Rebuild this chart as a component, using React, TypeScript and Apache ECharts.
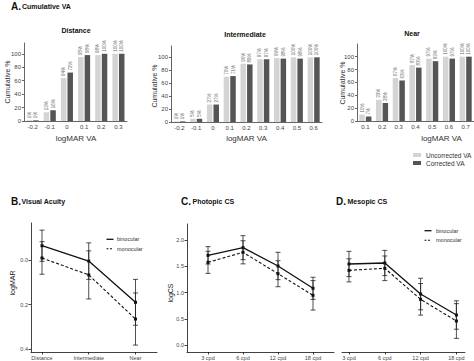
import React, { useEffect, useRef } from "react";
import * as echarts from "echarts";

// ---- Panel A data (cumulative %) ----
const distCats = ["-0.2", "-0.1", "0", "0.1", "0.2", "0.3"];
const distUnc = [1, 13, 64, 95, 98, 100];
const distCor = [1, 16, 72, 98, 100, 100];

const intCats = ["-0.2", "-0.1", "0", "0.1", "0.2", "0.3", "0.4", "0.5", "0.6"];
const intUnc = [1, 5, 27, 70, 90, 97, 99, 100, 100];
const intCor = [1, 5, 27, 71, 89, 97, 98, 98, 100];

const nearCats = ["0.1", "0.2", "0.3", "0.4", "0.5", "0.6", "0.7"];
const nearUnc = [10, 33, 67, 87, 97, 100, 100];
const nearCor = [7, 28, 63, 83, 93, 97, 100];

const pctTicks = [0, 20, 40, 60, 80, 100];

// ---- Panel B (logMAR) ----
const vaCats = ["Distance", "Intermediate", "Near"];
const vaBinMean = [-0.064, 0.005, 0.19];
const vaBinSd = [0.07, 0.082, 0.103];
const vaMonMean = [-0.009, 0.067, 0.265];
const vaMonSd = [0.073, 0.108, 0.117];
const vaTicks = [0, 0.2, 0.4];

// ---- Panel C (photopic logCS) ----
const cpdCats = ["3 cpd", "6 cpd", "12 cpd", "18 cpd"];
const phBinMean = [1.71, 1.856, 1.508, 1.084];
const phBinSd = [0.165, 0.228, 0.26, 0.21];
const phMonMean = [1.578, 1.768, 1.361, 0.95];
const phMonSd = [0.21, 0.22, 0.247, 0.28];
const csTicks = [0, 0.5, 1, 1.5, 2];

// ---- Panel D (mesopic logCS) ----
const meBinMean = [1.546, 1.565, 0.975, 0.576];
const meBinSd = [0.24, 0.24, 0.3, 0.27];
const meMonMean = [1.425, 1.464, 0.874, 0.462];
const meMonSd = [0.219, 0.234, 0.3, 0.33];

const FONT = "'Liberation Sans', Arial, sans-serif";
const LIGHT = "#d4d4d4";
const DARK = "#555555";

export default function App() {
  const ref = useRef<HTMLDivElement>(null);
  useEffect(() => {
    if (!ref.current) return;
    const chart = echarts.init(ref.current, undefined, { renderer: "svg" });

    const topGrids = [
      { left: 24, top: 43, width: 103, height: 78, max: 116 },
      { left: 171, top: 46, width: 151, height: 76, max: 117.5 },
      { left: 357, top: 44, width: 117, height: 77, max: 119.7 },
    ];
    const botGrids = [
      { left: 31, top: 223, width: 126, height: 129 },
      { left: 187, top: 224, width: 147, height: 128 },
      { left: 342, top: 224, width: 123, height: 128 },
    ];
    const grid: any[] = [...topGrids, ...botGrids].map((g) => ({
      left: g.left,
      top: g.top,
      width: g.width,
      height: g.height,
      containLabel: false,
    }));

    const topCats = [distCats, intCats, nearCats];
    const topUnc = [distUnc, intUnc, nearUnc];
    const topCor = [distCor, intCor, nearCor];

    const xAxis: any[] = [];
    const yAxis: any[] = [];
    const series: any[] = [];

    const topAxisLine = { onZero: false, lineStyle: { color: "#666", width: 1 } };
    topCats.forEach((cats, i) => {
      xAxis.push({
        type: "category",
        gridIndex: i,
        data: cats,
        axisLine: topAxisLine,
        axisTick: { alignWithLabel: true, length: 2, lineStyle: { color: "#666" } },
        axisLabel: { fontSize: 6, color: "#444", margin: 3, fontFamily: FONT },
      });
      yAxis.push({
        type: "value",
        gridIndex: i,
        min: 0,
        max: topGrids[i].max,
        splitLine: { show: false },
        axisLine: { show: true, ...topAxisLine },
        axisTick: { show: true, length: 2, lineStyle: { color: "#666" }, customValues: pctTicks },
        axisLabel: { fontSize: 6, color: "#444", margin: 3, fontFamily: FONT, customValues: pctTicks },
      });
      const lbl = {
        show: true,
        position: "top",
        rotate: 90,
        align: "left",
        verticalAlign: "middle",
        distance: 2,
        fontSize: 4.5,
        color: "#666",
        fontFamily: FONT,
        formatter: "{c}%",
      };
      series.push({
        type: "bar",
        name: "Uncorrected VA",
        xAxisIndex: i,
        yAxisIndex: i,
        data: topUnc[i],
        barWidth: 5.5,
        barGap: "20%",
        itemStyle: { color: LIGHT },
        label: lbl,
      });
      series.push({
        type: "bar",
        name: "Corrected VA",
        xAxisIndex: i,
        yAxisIndex: i,
        data: topCor[i],
        barWidth: 5.5,
        barGap: "20%",
        itemStyle: { color: DARK },
        label: lbl,
      });
    });

    const botAxisLine = { onZero: false, lineStyle: { color: "#111", width: 0.8 } };
    const botX = [
      { min: 0.765, max: 3.46, cats: vaCats },
      { min: 0.4, max: 4.6, cats: cpdCats },
      { min: 0.805, max: 4.24, cats: cpdCats },
    ];
    const botY = [
      { min: -0.166, max: 0.413, inverse: true, ticks: vaTicks, show: true, dec: 1 },
      { min: -0.127, max: 2.306, inverse: false, ticks: csTicks, show: true, dec: 1 },
      { min: -0.127, max: 2.306, inverse: false, ticks: csTicks, show: false, dec: 1 },
    ];
    botX.forEach((bx, k) => {
      const gi = 3 + k;
      const xv = bx.cats.map((_, j) => j + 1);
      xAxis.push({
        type: "value",
        gridIndex: gi,
        min: bx.min,
        max: bx.max,
        splitLine: { show: false },
        axisLine: botAxisLine,
        axisTick: { length: 2.5, lineStyle: { color: "#111", width: 0.8 }, customValues: xv },
        axisLabel: {
          fontSize: 5.5,
          color: "#444",
          margin: 3,
          fontFamily: FONT,
          customValues: xv,
          formatter: (v: number) => bx.cats[Math.round(v) - 1] ?? "",
        },
      });
      const by = botY[k];
      yAxis.push({
        type: "value",
        gridIndex: gi,
        min: by.min,
        max: by.max,
        inverse: by.inverse,
        splitLine: { show: false },
        axisLine: { show: by.show, ...botAxisLine },
        axisTick: { show: by.show, length: 2.5, lineStyle: { color: "#111", width: 0.8 }, customValues: by.ticks },
        axisLabel: {
          show: by.show,
          fontSize: 5.5,
          color: "#444",
          margin: 3,
          fontFamily: FONT,
          customValues: by.ticks,
          formatter: (v: number) => v.toFixed(by.dec),
        },
      });
    });

    const errRender = (params: any, api: any) => {
      const x = api.value(0);
      const lo = api.coord([x, api.value(1)]);
      const hi = api.coord([x, api.value(2)]);
      const w = 2.5;
      const style = { stroke: "#222", lineWidth: 0.8 };
      return {
        type: "group",
        children: [
          { type: "line", shape: { x1: lo[0], y1: lo[1], x2: hi[0], y2: hi[1] }, style },
          { type: "line", shape: { x1: lo[0] - w, y1: lo[1], x2: lo[0] + w, y2: lo[1] }, style },
          { type: "line", shape: { x1: hi[0] - w, y1: hi[1], x2: hi[0] + w, y2: hi[1] }, style },
        ],
      };
    };

    const botData = [
      { bm: vaBinMean, bs: vaBinSd, mm: vaMonMean, ms: vaMonSd },
      { bm: phBinMean, bs: phBinSd, mm: phMonMean, ms: phMonSd },
      { bm: meBinMean, bs: meBinSd, mm: meMonMean, ms: meMonSd },
    ];
    botData.forEach((d, k) => {
      const gi = 3 + k;
      const groups = [
        { name: "binocular", mean: d.bm, sd: d.bs, dash: "solid", w: 1.3 },
        { name: "monocular", mean: d.mm, sd: d.ms, dash: [3, 2], w: 1.1 },
      ];
      groups.forEach((g) => {
        series.push({
          type: "custom",
          xAxisIndex: gi,
          yAxisIndex: gi,
          renderItem: errRender,
          encode: { x: 0, y: [1, 2] },
          data: g.mean.map((m, j) => [j + 1, m - g.sd[j], m + g.sd[j]]),
          silent: true,
          z: 2,
        });
        series.push({
          type: "line",
          name: g.name,
          xAxisIndex: gi,
          yAxisIndex: gi,
          data: g.mean.map((m, j) => [j + 1, m]),
          symbol: "rect",
          symbolSize: 3,
          itemStyle: { color: "#111" },
          lineStyle: { color: "#111", width: g.w, type: g.dash },
          z: 3,
        });
      });
    });

    const txt = (x: number, y: number, text: string, size: number, opts: any = {}) => ({
      type: "text",
      x,
      y,
      rotation: opts.rotation || 0,
      style: {
        text,
        fontSize: size,
        fontFamily: FONT,
        fontWeight: opts.bold ? "bold" : "normal",
        fill: opts.color || "#111",
        align: opts.align || "left",
        verticalAlign: "middle",
      },
    });

    const legLine = (x: number, y: number, dash: any, w: number) => ({
      type: "line",
      shape: { x1: x, y1: y, x2: x + 7, y2: y },
      style: { stroke: "#111", lineWidth: w, lineDash: dash },
    });

    const graphic: any[] = [
      txt(11, 6, "A.", 10, { bold: true }),
      txt(22, 6.5, "Cumulative VA", 7, { bold: true }),
      txt(76, 30, "Distance", 7, { bold: true, align: "center" }),
      txt(245, 34, "Intermediate", 7, { bold: true, align: "center" }),
      txt(412, 33, "Near", 7, { bold: true, align: "center" }),
      txt(7.5, 82, "Cumulative %", 7, { align: "center", rotation: Math.PI / 2, color: "#333" }),
      txt(154, 86, "Cumulative %", 7, { align: "center", rotation: Math.PI / 2, color: "#333" }),
      txt(342, 83, "Cumulative %", 7, { align: "center", rotation: Math.PI / 2, color: "#333" }),
      txt(76, 138.5, "logMAR VA", 8, { align: "center", color: "#333" }),
      txt(246.5, 138.5, "logMAR VA", 8, { align: "center", color: "#333" }),
      txt(441.5, 138.5, "logMAR VA", 8, { align: "center", color: "#333" }),
      { type: "rect", shape: { x: 413, y: 153, width: 8, height: 4 }, style: { fill: LIGHT } },
      txt(426, 155, "Uncorrected VA", 6.5, { color: "#333" }),
      { type: "rect", shape: { x: 413, y: 161, width: 8, height: 4 }, style: { fill: DARK } },
      txt(426, 163, "Corrected VA", 6.5, { color: "#333" }),
      txt(11, 201, "B.", 10, { bold: true }),
      txt(21.5, 201.5, "Visual Acuity", 7, { bold: true }),
      txt(181, 201, "C.", 10, { bold: true }),
      txt(192.5, 201.5, "Photopic CS", 7, { bold: true }),
      txt(336, 201, "D.", 10, { bold: true }),
      txt(347.5, 201.5, "Mesopic CS", 7, { bold: true }),
      txt(12, 283, "logMAR", 7, { align: "center", rotation: Math.PI / 2, color: "#222" }),
      txt(170, 293, "logCS", 7, { align: "center", rotation: Math.PI / 2, color: "#222" }),
      legLine(106.5, 239.3, null, 1.3),
      txt(117, 239.3, "binocular", 5.5, { color: "#333" }),
      legLine(106.5, 248.7, [2, 1.5], 1.1),
      txt(117, 248.7, "monocular", 5.5, { color: "#333" }),
      legLine(424.5, 230.7, null, 1.3),
      txt(436, 230.7, "binocular", 5.5, { color: "#333" }),
      legLine(424.5, 240.3, [2, 1.5], 1.1),
      txt(436, 240.3, "monocular", 5.5, { color: "#333" }),
    ];

    chart.setOption({
      animation: false,
      backgroundColor: "#fff",
      textStyle: { fontFamily: FONT },
      grid,
      xAxis,
      yAxis,
      series,
      graphic,
    });
    return () => chart.dispose();
  }, []);

  return (
    <div
      ref={ref}
      style={{ position: "absolute", left: 0, top: 0, width: 474, height: 361, background: "#fff" }}
    />
  );
}
